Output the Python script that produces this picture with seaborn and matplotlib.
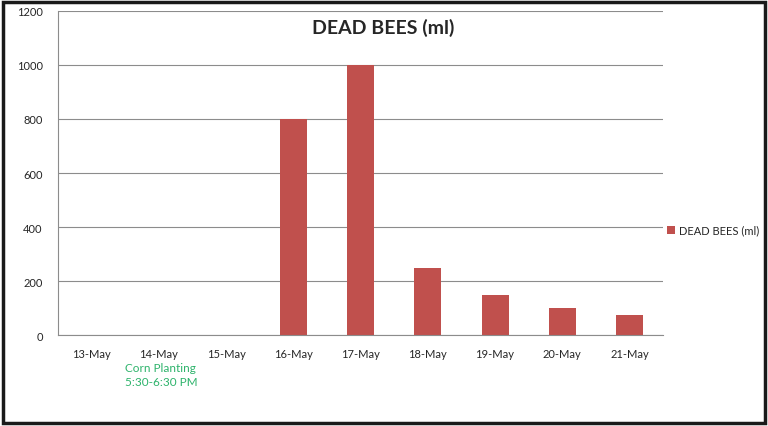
import matplotlib.pyplot as plt
import pandas as pd
import seaborn as sns
from matplotlib.patches import Rectangle

# dados
days = ['13-May', '14-May', '15-May', '16-May', '17-May',
        '18-May', '19-May', '20-May', '21-May']
dead_bees = [0, 0, 0, 800, 1000, 250, 150, 100, 75]
y_ticks = [0, 200, 400, 600, 800, 1000, 1200]
series_name = 'DEAD BEES (ml)'
note = 'Corn Planting\n5:30-6:30 PM'

df = pd.DataFrame({'day': days, 'ml': dead_bees})

sns.set_style('white')
plt.rcParams['font.family'] = ['Lato', 'DejaVu Sans']

fig = plt.figure(figsize=(7.68, 4.27), dpi=100)
ax = fig.add_axes([0.0755, 0.213, 0.788, 0.759])

sns.barplot(data=df, x='day', y='ml', color='#C0504D', saturation=1,
            width=0.4, ax=ax, label=series_name, order=days, linewidth=0)

ax.set_ylim(0, 1200)
ax.set_yticks(y_ticks)
ax.set_xlim(-0.5, len(days) - 0.5)
ax.grid(axis='y', color='#8c8c8c', linewidth=0.8)
ax.set_axisbelow(True)
for s in ['top', 'right']:
    ax.spines[s].set_visible(False)
for s in ['left', 'bottom']:
    ax.spines[s].set_color('#8c8c8c')
    ax.spines[s].set_linewidth(0.8)

# marcas entre categorias, estilo Excel
ax.set_xticks([i - 0.5 for i in range(len(days) + 1)], minor=True)
ax.tick_params(axis='x', which='major', length=0, pad=9, labelsize=8)
ax.tick_params(axis='x', which='minor', length=4, color='#8c8c8c', width=0.8)
ax.tick_params(axis='y', length=4, color='#8c8c8c', width=0.8, labelsize=8, pad=7)
ax.set_xlabel('')
ax.set_ylabel('')

fig.text(0.499, 0.934, series_name, ha='center', va='center',
         fontsize=14, fontweight='bold')

ax.legend(loc='center left', bbox_to_anchor=(0.99, 0.324), frameon=False,
          fontsize=8, handlelength=0.7, handleheight=0.7, handletextpad=0.4)

fig.text(0.163, 0.121, note, ha='left', va='center', fontsize=8.5,
         color='#2DB36B', linespacing=1.3)

# moldura escura ao redor
fig.patches.append(Rectangle((0.004, 0.007), 0.992, 0.986, transform=fig.transFigure,
                             fill=False, edgecolor='#1a1a1a', linewidth=2.5))

fig.savefig('out.png', dpi=100)
